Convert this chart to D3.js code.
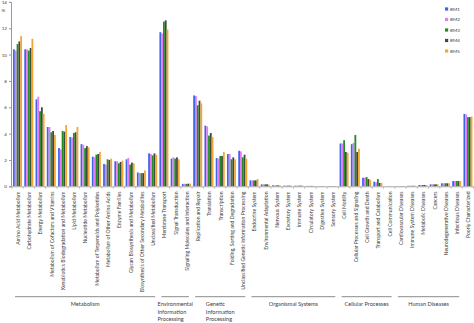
<!DOCTYPE html>
<html>
<head>
<meta charset="utf-8">
<script src="https://cdn.jsdelivr.net/npm/d3@7"></script>
<style>
  body { margin: 0; background: #fff; }
  text { font-family: Lato, "Open Sans", sans-serif; fill: #404040; }
</style>
</head>
<body>
<div id="chart"></div>
<script>
// KEGG functional categories (% of annotated reads) for five samples
const categories = [
  'Amino Acid Metabolism', 'Carbohydrate Metabolism', 'Energy Metabolism',
  'Metabolism of Cofactors and Vitamins', 'Xenobiotics Biodegradation and Metabolism',
  'Lipid Metabolism', 'Nucleotide Metabolism', 'Metabolism of Terpenoids and Polyketides',
  'Metabolism of Other Amino Acids', 'Enzyme Families', 'Glycan Biosynthesis and Metabolism',
  'Biosynthesis of Other Secondary Metabolites', 'Unclassified Metabolism',
  'Membrane Transport', 'Signal Transduction', 'Signaling Molecules and Interaction',
  'Replication and Repair', 'Translation', 'Transcription', 'Folding, Sorting and Degradation',
  'Unclassified Genetic Information Processing',
  'Endocrine System', 'Environmental Adaptation', 'Nervous System', 'Excretory System',
  'Immune System', 'Circulatory System', 'Digestive System', 'Sensory System',
  'Cell Motility', 'Cellular Processes and Signaling', 'Cell Growth and Death',
  'Transport and Catabolism', 'Cell Communication',
  'Cardiovascular Diseases', 'Immune System Diseases', 'Metabolic Diseases', 'Cancers',
  'Neurodegenerative Diseases', 'Infectious Diseases', 'Poorly Characterized'
];

const seriesNames = ['BM1', 'BM2', 'BM3', 'BM4', 'BM5'];

const bm1 = [10.4, 10.4, 6.6, 4.5, 2.9, 3.75, 3.2, 2.25, 1.7, 1.9, 2.05, 1.05, 2.5,
  11.7, 2.1, 0.18, 6.9, 4.6, 2.15, 2.45, 2.7,
  0.45, 0.15, 0.08, 0.05, 0.05, 0.03, 0.02, 0.02,
  3.25, 3.2, 0.65, 0.35, 0.01,
  0.02, 0.04, 0.1, 0.15, 0.23, 0.4, 5.5];
const bm2 = [10.3, 10.4, 6.8, 4.5, 2.8, 3.7, 3.15, 2.2, 1.65, 1.9, 2.15, 1.0, 2.45,
  11.6, 2.2, 0.2, 6.85, 4.55, 2.1, 2.45, 2.65,
  0.45, 0.15, 0.07, 0.05, 0.05, 0.03, 0.02, 0.02,
  3.25, 3.3, 0.65, 0.3, 0.01,
  0.02, 0.04, 0.1, 0.15, 0.23, 0.4, 5.45];
const bm3 = [10.8, 10.3, 5.7, 4.1, 4.2, 4.05, 2.9, 2.4, 2.05, 1.75, 1.65, 1.0, 2.35,
  12.5, 2.1, 0.18, 6.15, 3.85, 2.3, 2.05, 2.2,
  0.45, 0.15, 0.07, 0.05, 0.05, 0.03, 0.02, 0.02,
  3.5, 3.9, 0.7, 0.55, 0.01,
  0.02, 0.04, 0.1, 0.15, 0.23, 0.4, 5.25];
const bm4 = [11.0, 10.5, 6.0, 4.2, 4.15, 4.1, 3.05, 2.45, 2.0, 1.85, 1.8, 1.0, 2.5,
  12.6, 2.2, 0.2, 6.5, 4.05, 2.3, 2.2, 2.4,
  0.45, 0.15, 0.07, 0.05, 0.05, 0.03, 0.02, 0.02,
  2.6, 2.6, 0.55, 0.25, 0.01,
  0.02, 0.04, 0.1, 0.15, 0.23, 0.4, 5.25];
const bm5 = [11.4, 11.2, 5.5, 3.9, 4.65, 4.5, 2.95, 2.6, 2.1, 1.95, 1.75, 1.2, 2.4,
  11.9, 2.05, 0.2, 6.3, 3.75, 2.6, 2.05, 2.1,
  0.55, 0.12, 0.06, 0.05, 0.05, 0.03, 0.02, 0.02,
  2.55, 2.85, 0.5, 0.25, 0.01,
  0.02, 0.04, 0.1, 0.15, 0.23, 0.4, 5.3];

const yTicks = [0, 2, 4, 6, 8, 10, 12, 14];

// top-level groups: label lines, first and last category
const groups = [
  { lines: ['Metabolism'], first: 0, last: 12 },
  { lines: ['Environmental', 'Information', 'Processing'], first: 13, last: 15 },
  { lines: ['Genetic', 'Information', 'Processing'], first: 16, last: 20 },
  { lines: ['Organismal Systems'], first: 21, last: 28 },
  { lines: ['Cellular Processes'], first: 29, last: 33 },
  { lines: ['Human Diseases'], first: 34, last: 39 }
];

const colors = ['#4063ea', '#e57af5', '#1f8f1f', '#3c4c3c', '#f4a534'];

const W = 474, H = 323;
const values = [bm1, bm2, bm3, bm4, bm5];
const rows = categories.map((c, i) => ({ cat: c, vals: values.map(s => s[i]) }));

const svg = d3.select('#chart').append('svg')
  .attr('width', W).attr('height', H);

const x = d3.scaleBand()
  .domain(categories)
  .range([11.9, 473.6])
  .paddingInner(0.2)
  .paddingOuter(0.1);

const xs = d3.scaleBand()
  .domain(seriesNames)
  .range([0, x.bandwidth()]);

const y = d3.scaleLinear()
  .domain([0, 14])
  .range([186.3, 1.9]);

// y axis
const yAxis = svg.append('g')
  .attr('transform', 'translate(11,0)')
  .call(d3.axisLeft(y).tickValues(yTicks).tickSize(2).tickPadding(2));
yAxis.select('.domain').attr('stroke', '#999');
yAxis.selectAll('.tick line').attr('stroke', '#999');
yAxis.selectAll('.tick text')
  .style('font-size', '4.6px')
  .attr('fill', '#404040');

svg.append('text')
  .attr('x', 1.5).attr('y', 11.5)
  .style('font-size', '4.6px')
  .text('%');

// bars
const grp = svg.append('g').selectAll('g')
  .data(rows)
  .join('g')
  .attr('transform', d => `translate(${x(d.cat)},0)`);

grp.selectAll('rect')
  .data(d => d.vals.map((v, k) => ({ k, v })))
  .join('rect')
  .attr('x', d => xs(seriesNames[d.k]))
  .attr('width', xs.bandwidth())
  .attr('y', d => y(d.v))
  .attr('height', d => y(0) - y(d.v))
  .attr('fill', d => colors[d.k]);

// x axis baseline with ticks between categories
const step = x.step();
const x0 = x.range()[0];
svg.append('line')
  .attr('x1', 11).attr('x2', 474)
  .attr('y1', y(0) + 0.5).attr('y2', y(0) + 0.5)
  .attr('stroke', '#999').attr('stroke-width', 0.8);
svg.append('g').selectAll('line')
  .data(d3.range(categories.length + 1))
  .join('line')
  .attr('x1', i => x0 + i * step).attr('x2', i => x0 + i * step)
  .attr('y1', y(0) + 0.5).attr('y2', y(0) + 2.5)
  .attr('stroke', '#999').attr('stroke-width', 0.6);

// category labels, rotated
svg.append('g').selectAll('text')
  .data(categories)
  .join('text')
  .attr('transform', d => `translate(${x(d) + x.bandwidth() / 2 + 0.6},191.5) rotate(-90)`)
  .attr('text-anchor', 'end')
  .attr('dy', '0.35em')
  .style('font-size', '5.1px')
  .text(d => d);

// group brackets and names
const lineY = 296.7;
const gx1 = d => x(categories[d.first]) + 2;
const gx2 = d => x(categories[d.last]) + x.bandwidth() - 2;

const gg = svg.append('g').selectAll('g')
  .data(groups)
  .join('g');

gg.append('line')
  .attr('x1', gx1)
  .attr('x2', gx2)
  .attr('y1', lineY).attr('y2', lineY)
  .attr('stroke', '#8c8c8c').attr('stroke-width', 1);

// each name block is left-aligned and centred under its line
gg.each(function (d) {
  const g = d3.select(this);
  const t = g.append('text')
    .attr('y', 305.8)
    .style('font-size', '5.6px');
  t.selectAll('tspan')
    .data(d.lines)
    .join('tspan')
    .attr('dy', (s, i) => i === 0 ? 0 : 7.7)
    .text(s => s);
  const widths = [];
  t.selectAll('tspan').each(function () { widths.push(this.getComputedTextLength()); });
  const wmax = d3.max(widths);
  const left = (gx1(d) + gx2(d)) / 2 - wmax / 2;
  t.selectAll('tspan').attr('x', left);
});

// legend
const legend = svg.append('g').selectAll('g')
  .data(seriesNames)
  .join('g')
  .attr('transform', (d, i) => `translate(445,${9 + i * 10.5})`);

legend.append('rect')
  .attr('x', 0).attr('y', -1.6)
  .attr('width', 3.2).attr('height', 3.2)
  .attr('fill', (d, i) => colors[i]);

legend.append('text')
  .attr('x', 5).attr('dy', '0.35em')
  .style('font-size', '4.6px')
  .text(d => d);
</script>
</body>
</html>
